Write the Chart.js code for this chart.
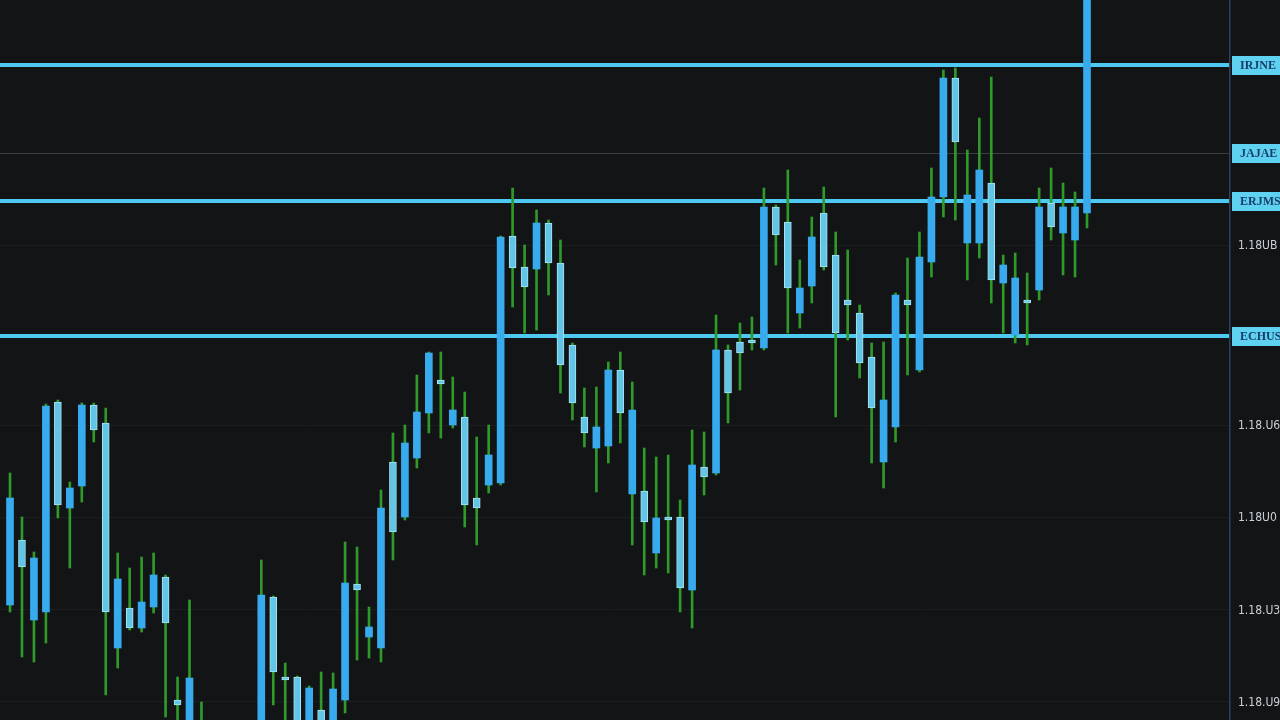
<!DOCTYPE html>
<html><head><meta charset="utf-8">
<script src="https://cdn.jsdelivr.net/npm/chart.js@4.4.1/dist/chart.umd.min.js"></script>
<style>html,body{margin:0;padding:0;background:#131417;overflow:hidden}canvas{display:block}</style>
</head><body>
<canvas id="c" width="1280" height="720"></canvas>
<script>
// OHLC prices per candle slot (null = no visible candle)
const openP = [1.18115,1.18180,1.18100,1.18108,1.18318,1.18212,1.18234,1.18315,1.18297,1.18072,
1.18112,1.18092,1.18113,1.18143,1.18020,1.17980,1.17980,null,null,null,
null,1.17980,1.18123,1.18043,1.18043,1.17980,1.18010,1.17980,1.18020,1.18136,
1.18083,1.18072,1.18258,1.18203,1.18262,1.18307,1.18340,1.18295,1.18303,1.18222,
1.18235,1.18237,1.18484,1.18453,1.18451,1.18497,1.18457,1.18375,1.18303,1.18272,
1.18274,1.18350,1.18226,1.18229,1.18167,1.18203,1.18203,1.18130,1.18253,1.18247,
1.18370,1.18378,1.18380,1.18372,1.18513,1.18498,1.18407,1.18434,1.18507,1.18465,
1.18420,1.18407,1.18363,1.18258,1.18293,1.18420,1.18350,1.18458,1.18523,1.18642,
1.18477,1.18477,1.18537,1.18437,1.18385,1.18420,1.18430,1.18517,1.18487,1.18480,
1.18507];
const highP = [1.18247,1.18203,1.18168,1.18316,1.18320,1.18238,1.18317,1.18317,1.18312,1.18167,
1.18152,1.18163,1.18167,1.18145,1.18043,1.18120,1.18018,null,null,null,
null,1.18160,1.18124,1.18057,1.18044,1.18034,1.18048,1.18047,1.18178,1.18173,
1.18113,1.18230,1.18287,1.18295,1.18345,1.18368,1.18368,1.18343,1.18328,1.18283,
1.18295,1.18484,1.18532,1.18475,1.18510,1.18500,1.18480,1.18377,1.18332,1.18333,
1.18358,1.18368,1.18338,1.18272,1.18263,1.18265,1.18220,1.18290,1.18288,1.18405,
1.18375,1.18397,1.18403,1.18532,1.18515,1.18550,1.18460,1.18503,1.18533,1.18488,
1.18470,1.18415,1.18377,1.18378,1.18427,1.18462,1.18488,1.18552,1.18650,1.18652,
1.18570,1.18602,1.18643,1.18465,1.18467,1.18447,1.18532,1.18552,1.18537,1.18528,
1.18760];
const lowP = [1.18108,1.18063,1.18058,1.18077,1.18202,1.18152,1.18218,1.18278,1.18025,1.18052,
1.18090,1.18088,1.18107,1.18003,1.17980,1.17975,1.17975,null,null,null,
null,1.17975,1.18015,1.17980,1.17975,1.17975,1.17975,1.17975,1.18007,1.18060,
1.18062,1.18058,1.18160,1.18200,1.18252,1.18287,1.18282,1.18292,1.18193,1.18175,
1.18227,1.18235,1.18413,1.18387,1.18390,1.18425,1.18327,1.18300,1.18273,1.18228,
1.18257,1.18277,1.18175,1.18145,1.18152,1.18147,1.18108,1.18092,1.18225,1.18245,
1.18297,1.18330,1.18370,1.18370,1.18455,1.18387,1.18392,1.18417,1.18450,1.18303,
1.18380,1.18342,1.18257,1.18232,1.18278,1.18345,1.18348,1.18443,1.18503,1.18500,
1.18440,1.18462,1.18417,1.18387,1.18377,1.18375,1.18420,1.18480,1.18445,1.18443,
1.18492];
const closeP = [1.18222,1.18153,1.18162,1.18314,1.18215,1.18232,1.18315,1.18290,1.18108,1.18141,
1.18092,1.18118,1.18145,1.18097,1.18015,1.18042,1.17990,null,null,null,
null,1.18125,1.18048,1.18040,1.17980,1.18032,1.17990,1.18031,1.18137,1.18130,
1.18093,1.18212,1.18188,1.18277,1.18308,1.18367,1.18336,1.18310,1.18215,1.18212,
1.18265,1.18483,1.18452,1.18433,1.18497,1.18457,1.18355,1.18317,1.18287,1.18293,
1.18350,1.18307,1.18310,1.18198,1.18202,1.18200,1.18132,1.18255,1.18243,1.18370,
1.18327,1.18367,1.18377,1.18513,1.18485,1.18432,1.18432,1.18483,1.18453,1.18387,
1.18415,1.18357,1.18312,1.18320,1.18425,1.18415,1.18463,1.18523,1.18642,1.18578,
1.18525,1.18550,1.18440,1.18455,1.18442,1.18417,1.18513,1.18493,1.18513,1.18513,
1.18760];

// Price axis labels
const tickValues = [1.18655, 1.18567, 1.18519, 1.18475, 1.18384, 1.18295, 1.18203, 1.18110, 1.18018];
const tickLabels = ['IRJNE', 'JAJAE', 'ERJMS', '1.18UB', 'ECHUS', '1.18.U6', '1.18U0', '1.18.U3', '1.18.U9'];
// Horizontal level lines and marked price
const levelPrices = [1.18655, 1.18519, 1.18384];
const markerPrices = [1.18567];

const SOLID = '#38abee';
const HOLLOW = '#62c4e6';
const HOLLOW_EDGE = '#a6e6f2';
const WICK = '#2f9a2a';
const LEVEL = '#4ec9f2';

const bodyData = [], wickData = [], bodyUp = [];
openP.forEach((o, i) => {
  if (o === null) return;
  bodyData.push({x: i, y: [o, closeP[i]]});
  wickData.push({x: i, y: [lowP[i], highP[i]]});
  bodyUp.push(closeP[i] >= o);
});

const isLevel = v => levelPrices.some(p => Math.abs(p - v) < 1e-7);
const isMarker = v => markerPrices.some(p => Math.abs(p - v) < 1e-7);

const bgPlugin = {
  id: 'bg',
  beforeDraw(chart) {
    const c = chart.ctx; c.save(); c.fillStyle = '#131416';
    c.fillRect(0, 0, chart.width, chart.height); c.restore();
  }
};
const labelPlugin = {
  id: 'axisLabels',
  afterDraw(chart) {
    const s = chart.scales.y, c = chart.ctx;
    c.save();
    c.textBaseline = 'middle'; c.textAlign = 'left';
    tickValues.forEach((v, i) => {
      const y = s.getPixelForValue(v);
      if (isLevel(v) || isMarker(v)) {
        c.fillStyle = '#5fd2f2';
        c.fillRect(s.left + 2, Math.round(y) - 9, s.width, 19);
        c.fillStyle = '#173d68';
        c.font = 'bold 12px "Liberation Serif"';
        c.fillText(tickLabels[i], s.left + 10, y + 1);
      } else {
        c.fillStyle = '#c9d0d6';
        c.font = '12px "DejaVu Sans Condensed", "DejaVu Sans"';
        c.fillText(tickLabels[i], s.left + 8, y + 1);
      }
    });
    c.restore();
  }
};

new Chart(document.getElementById('c'), {
  type: 'bar',
  data: {
    datasets: [
      {
        label: 'body', data: bodyData, order: 1, grouped: false, barThickness: 7,
        backgroundColor: ctx => bodyUp[ctx.dataIndex] ? SOLID : HOLLOW,
        borderColor: ctx => bodyUp[ctx.dataIndex] ? SOLID : HOLLOW_EDGE,
        borderWidth: ctx => bodyUp[ctx.dataIndex] ? 0 : 1,
        borderSkipped: false
      },
      {
        label: 'wick', data: wickData, order: 2, grouped: false, barThickness: 2,
        backgroundColor: WICK, borderWidth: 0
      }
    ]
  },
  options: {
    responsive: false, animation: false, devicePixelRatio: 1,
    layout: {padding: 0},
    plugins: {legend: {display: false}, tooltip: {enabled: false}},
    scales: {
      x: {type: 'linear', min: -0.836, max: 101.95, display: false, offset: false, grid: {display: false}},
      y: {
        type: 'linear', position: 'right', min: 1.18, max: 1.1872,
        afterBuildTicks: s => { s.ticks = tickValues.map(v => ({value: v})); },
        afterFit: s => { s.width = 50; },
        ticks: {display: false},
        grid: {
          drawTicks: false,
          color: ctx => ctx.tick && isLevel(ctx.tick.value) ? LEVEL : (ctx.tick && isMarker(ctx.tick.value) ? '#3b3f44' : '#1b1d21'),
          lineWidth: ctx => ctx.tick && isLevel(ctx.tick.value) ? 4 : 1
        },
        border: {display: true, color: '#25445f', width: 1.5}
      }
    }
  },
  plugins: [bgPlugin, labelPlugin]
});
</script>
</body></html>
